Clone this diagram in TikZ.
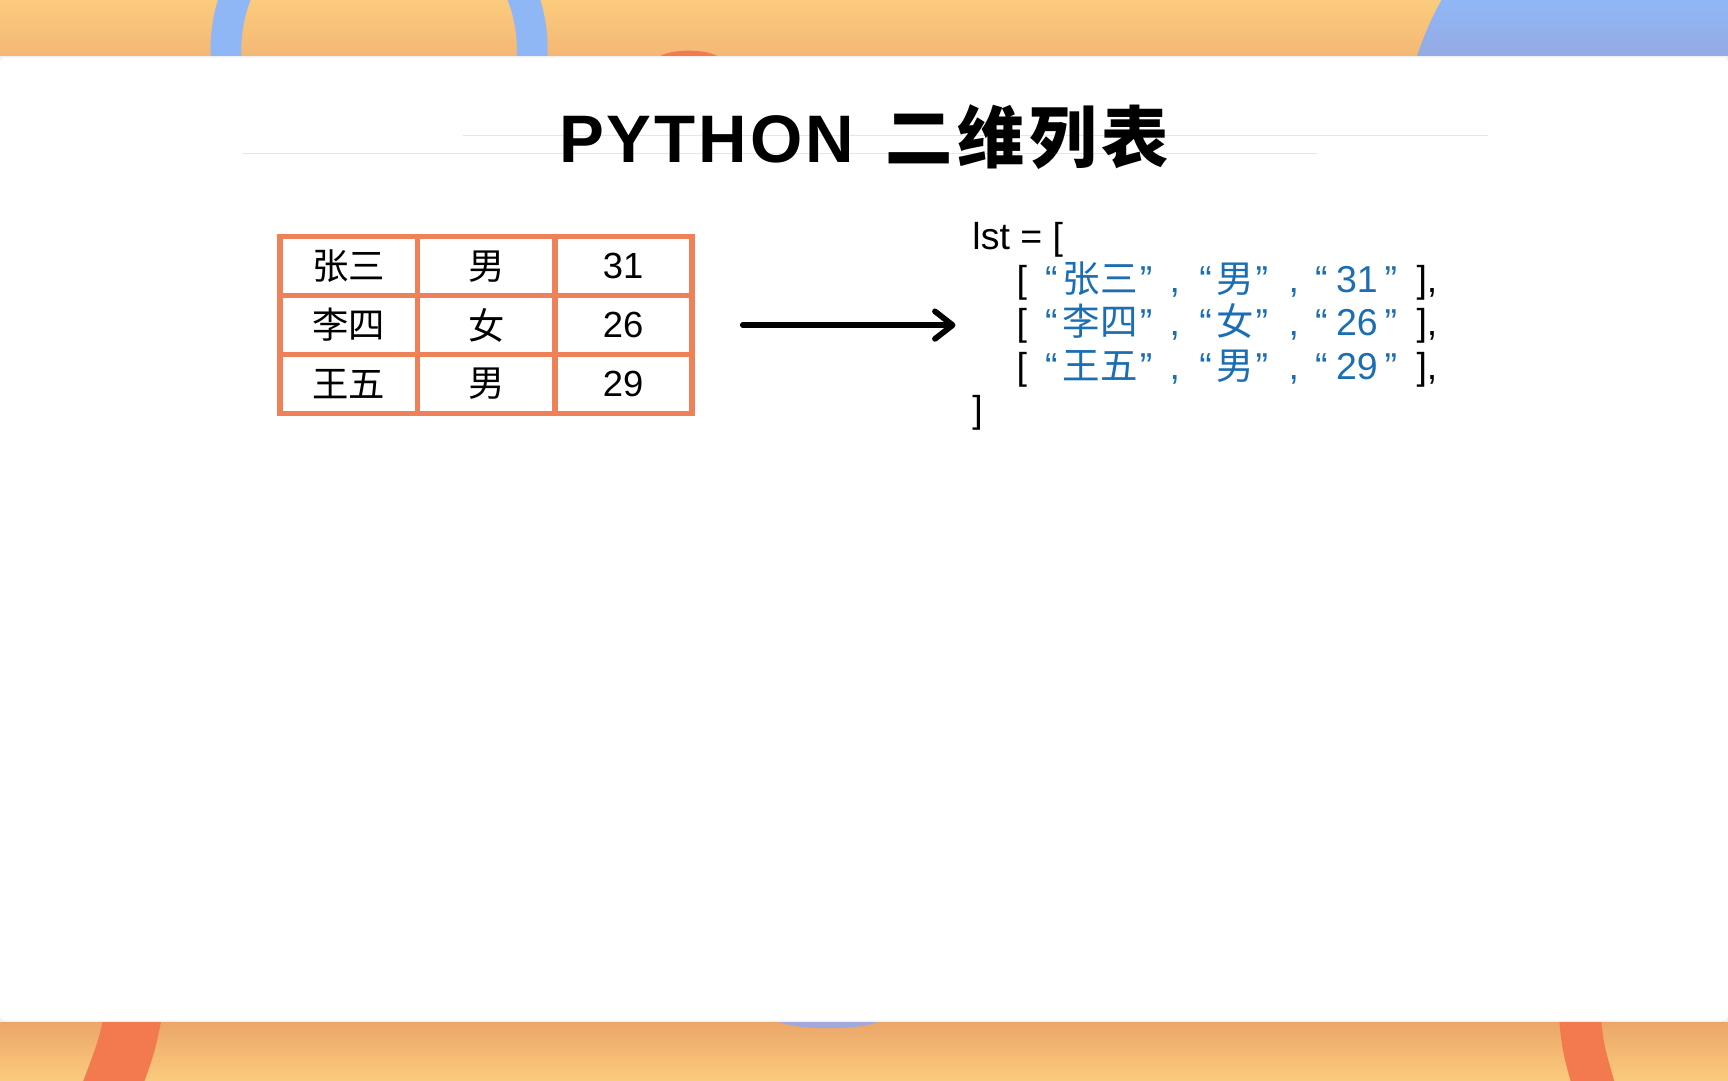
\documentclass[tikz,border=0pt]{standalone}
\usepackage{fontspec}
\setmainfont{Liberation Sans}
\newfontfamily\cjk{Noto Sans CJK SC}
\newfontfamily\titlelat{Liberation Sans}[LetterSpace=4.5]
\newfontfamily\titlecjk{Noto Sans CJK SC}[LetterSpace=7]
\usetikzlibrary{arrows.meta}
\definecolor{bgtop}{HTML}{FBCB7D}
\definecolor{bgmid}{HTML}{F3B474}
\definecolor{bgbot}{HTML}{E9A166}
\definecolor{bluec}{HTML}{8FB7F6}
\definecolor{blued}{HTML}{96A9E2}
\definecolor{redc}{HTML}{F37A4F}
\definecolor{purplec}{HTML}{A3A8DC}
\definecolor{tblorange}{HTML}{EE8158}
\definecolor{codeblue}{HTML}{1B6EB4}
\definecolor{rulegrey}{HTML}{E6E6E6}
\newcommand\putat[2]{\rlap{\hspace*{#1}#2}}
\newcommand\codeline[3]{%
\putat{0pt}{[}%
\putat{13pt}{\color{codeblue}“}%
\putat{21pt}{\color{codeblue}\cjk #1}%
\putat{56pt}{\color{codeblue}”}%
\putat{69.5pt}{\color{codeblue},}%
\putat{83pt}{\color{codeblue}“}%
\putat{90.5pt}{\color{codeblue}\cjk #2}%
\putat{108.5pt}{\color{codeblue}”}%
\putat{123.5pt}{\color{codeblue},}%
\putat{135.5pt}{\color{codeblue}“}%
\putat{145pt}{\color{codeblue}#3}%
\putat{167pt}{\color{codeblue}”}%
\putat{181.5pt}{],}%
\hspace*{192pt}}
\tikzset{
  cellbox/.style={draw=tblorange, line width=2.5pt, minimum width=62.5pt,
    minimum height=26.75pt, inner sep=0pt, text=black,
    font=\fontsize{16.5pt}{19pt}\selectfont},
  codetext/.style={anchor=base west, inner sep=0pt, text=black,
    font=\fontsize{17pt}{20pt}\selectfont},
  bigarrow/.style={line width=2.6pt, line cap=round,
    -{Straight Barb[length=8pt, width=12.5pt, line cap=round, line join=round]}},
}
\begin{document}
\begin{tikzpicture}[x=0.5pt, y=-0.5pt]
\useasboundingbox (0,0) rectangle (1568,980);
\clip (0,0) rectangle (1568,980);
% background bands
\shade[top color=bgtop, bottom color=bgmid] (0,0) rectangle (1568,60);
\shade[top color=bgbot, bottom color=bgtop] (0,920) rectangle (1568,980);
% decorative shapes
\draw[bluec, line width=14pt] (344,45) circle[radius=69.5pt];
\shade[top color=bluec, bottom color=blued] (1308,0) .. controls (1298,18) and (1291,35) .. (1284,56) -- (1568,56) -- (1568,0) -- cycle;
\fill[redc] (625,54) ellipse[x radius=14pt, y radius=4pt];
\fill[purplec] (752,924) ellipse[x radius=24pt, y radius=4.5pt];
\draw[redc, line width=26pt] (122,915) .. controls (115,950) .. (98,995);
\draw[redc, line width=19pt] (1433,915) .. controls (1436,950) .. (1449,995);
% panel
\fill[black!6] (0,51) rectangle (1568,927.5);
\fill[white, rounded corners=2pt] (0,52) rectangle (1568,926);
% title rules
\draw[rulegrey, line width=0.6pt] (420,123) -- (1350,123);
\draw[rulegrey, line width=0.6pt] (220,139) -- (1195,139);
\node[anchor=base west, inner sep=0pt, font=\fontsize{30.5pt}{36pt}\selectfont\bfseries] (title) at (507,147) {\titlelat PYTHON\hspace{14pt}{\titlecjk 二维列表}};
% table
\node[cellbox] (c11) at (316.5,241.5) {\cjk 张三};
\node[cellbox] (c12) at (441.5,241.5) {\cjk 男};
\node[cellbox] (c13) at (565.5,241.5) {31};
\node[cellbox] (c21) at (316.5,295) {\cjk 李四};
\node[cellbox] (c22) at (441.5,295) {\cjk 女};
\node[cellbox] (c23) at (565.5,295) {26};
\node[cellbox] (c31) at (316.5,348.5) {\cjk 王五};
\node[cellbox] (c32) at (441.5,348.5) {\cjk 男};
\node[cellbox] (c33) at (565.5,348.5) {29};
% arrow
\coordinate (aS) at (674,295);
\coordinate (aE) at (867,295);
\draw[bigarrow] (aS) -- (aE);
% code
\node[codetext] (l0) at (882,226) {lst = [};
\node[codetext] (l1) at (922,265) {\codeline{张三}{男}{31}};
\node[codetext] (l2) at (922,304.5) {\codeline{李四}{女}{26}};
\node[codetext] (l3) at (922,344) {\codeline{王五}{男}{29}};
\node[codetext] (l4) at (882,383) {]};
\end{tikzpicture}
\end{document}
